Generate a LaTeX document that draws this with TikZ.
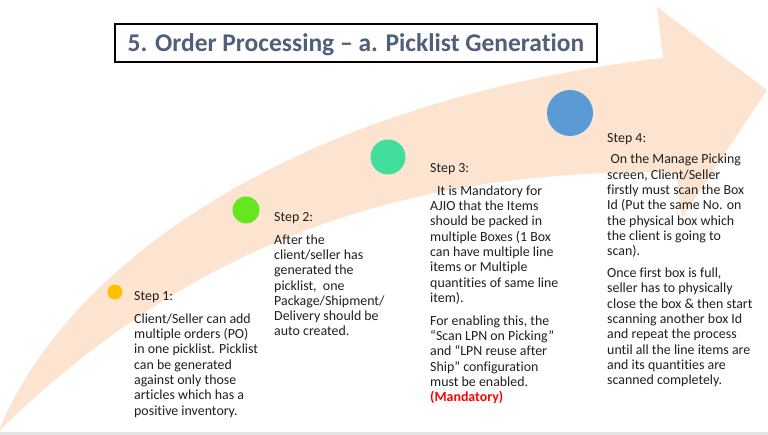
\documentclass[tikz,border=0pt]{standalone}
\usepackage{fontspec}
\setmainfont{Carlito}[Ligatures=NoCommon]
\usetikzlibrary{positioning}
\definecolor{band}{HTML}{FCE4D0}
\definecolor{stepa}{HTML}{FFC000}
\definecolor{stepb}{HTML}{66E620}
\definecolor{stepc}{HTML}{40DE9A}
\definecolor{stepd}{HTML}{5B9BD5}
\definecolor{ttl}{HTML}{505F7A}
\definecolor{must}{HTML}{FF0000}
\newcommand{\topline}{\rule{0pt}{10pt}}

\begin{document}
\begin{tikzpicture}[
  x=1pt, y=-1pt,
  dot/.style={circle, inner sep=0pt},
  txt/.style={anchor=north west, align=left, inner sep=0pt, text=black!88,
    font=\fontsize{13.9}{15.3}\selectfont},
]
  \fill[white] (0,0) rectangle (768,435);
  \useasboundingbox (0,0) rectangle (768,435);
  \fill[gray!22] (0,432) rectangle (768,435);

  % the big curved arrow
  \fill[band] (0,428) .. controls (70,260) and (300,100) .. (663,58)
    -- (657,7) -- (767,90) -- (682,218) -- (676,172)
    .. controls (450,170) and (220,215) .. (0,430) -- cycle;

  % title
  \node[draw, line width=2.5pt, fill=white, minimum width=482pt, minimum height=38pt,
    inner sep=0pt, text depth=0pt, font=\fontsize{25.5}{28}\bfseries\selectfont, text=ttl]
    (title) at (356,43) {5. Order Processing -- a. Picklist Generation};

  % steps
  \node[dot, fill=stepa, minimum size=15pt] (d1) at (115,292) {};
  \node[dot, fill=stepb, minimum size=27pt] (d2) at (246,210) {};
  \node[dot, fill=stepc, minimum size=35pt] (d3) at (388,157) {};
  \node[dot, fill=stepd, minimum size=46pt] (d4) at (570,113) {};

  \node[txt] (s1) at (134,290) {\topline Step 1:\\[7.7pt]
    Client/Seller can add\\ multiple orders (PO)\\ in one picklist. Picklist\\
    can be generated\\ against only those\\ articles which has a\\ positive inventory.};
  \node[txt] (s2) at (274,211) {\topline Step 2:\\[7.7pt]
    After the\\ client/seller has\\ generated the\\ picklist,\ \ one\\
    Package/Shipment/\\ Delivery should be\\ auto created.};
  \node[txt] (s3) at (430,162) {\topline Step 3:\\[7.7pt]
    \hspace*{7pt}It is Mandatory for\\ AJIO that the Items\\ should be packed in\\
    multiple Boxes (1 Box\\ can have multiple line\\ items or Multiple\\
    quantities of same line\\ item).\\[7.7pt]
    For enabling this, the\\ “Scan LPN on Picking”\\ and “LPN reuse after\\
    Ship” configuration\\ must be enabled.\\ \textcolor{must}{\bfseries(Mandatory)}};
  \node[txt] (s4) at (607,132) {\topline Step 4:\\[6.5pt]
    \hspace*{3.5pt}On the Manage Picking\\ screen, Client/Seller\\ firstly must scan the Box\\
    Id (Put the same No. on\\ the physical box which\\ the client is going to\\ scan).\\[6.5pt]
    Once first box is full,\\ seller has to physically\\ close the box \& then start\\
    scanning another box Id\\ and repeat the process\\ until all the line items are\\
    and its quantities are\\ scanned completely.};
\end{tikzpicture}
\end{document}
